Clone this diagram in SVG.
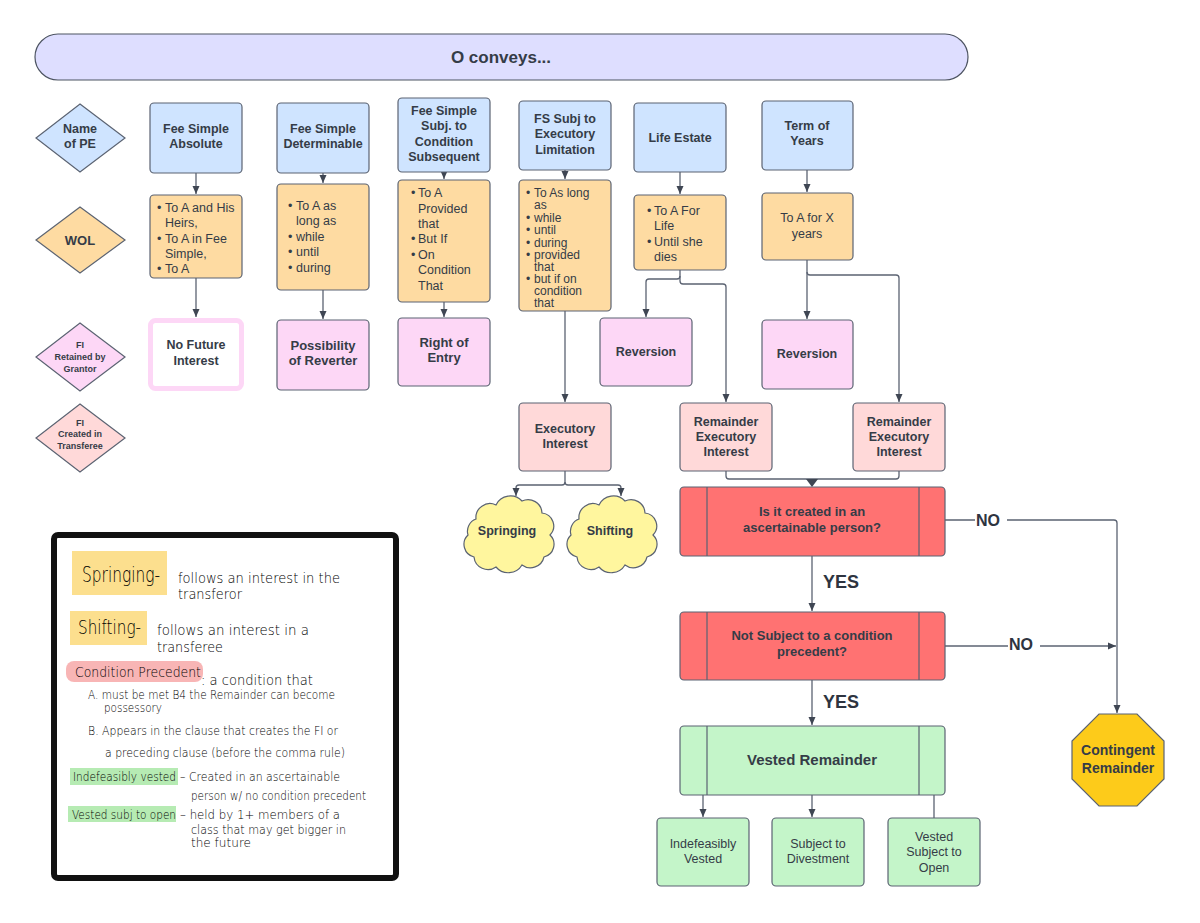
<svg xmlns="http://www.w3.org/2000/svg" width="1200" height="923" viewBox="0 0 1200 923">
<style>
text{font-family:"Liberation Sans",Arial,sans-serif;fill:#353c47}
.t{font-size:12.5px;font-weight:bold;text-anchor:middle}
.b{font-size:12.5px}
.s{font-size:12px}
.bl{stroke:#5b6372;stroke-width:1.2}
.blue{fill:#cfe4ff}
.org{fill:#fedba2}
.pnk{fill:#fdd7f6}
.lred{fill:#ffd9d9}
.red{fill:#ff7272}
.grn{fill:#c4f5c9}
.c{fill:none;stroke:#5b6372;stroke-width:1.3}
.lbl{font-size:18px;font-weight:bold;fill:#2e3440}
.h{font-family:"DejaVu Sans","Liberation Sans",sans-serif;font-weight:200;fill:#000}
</style>
<defs>
<marker id="ar" markerUnits="userSpaceOnUse" markerWidth="10" markerHeight="10" viewBox="0 0 10 10" refX="9" refY="5" orient="auto">
<path d="M1,1.5 L9,5 L1,8.5 z" fill="#3f4653"/>
</marker>
<path id="cloud" d="M14,22 a14,14 0 0 1 20,-14 a16,16 0 0 1 26,-4 a14,14 0 0 1 20,12 a13,13 0 0 1 8,22 a13,13 0 0 1 -6,22 a14,14 0 0 1 -22,8 a16,16 0 0 1 -26,2 a14,14 0 0 1 -22,-10 a13,13 0 0 1 -6,-22 a13,13 0 0 1 8,-16 z"/>
</defs>

<g id="connectors">
<path class="c" d="M196,173 V194" marker-end="url(#ar)"/>
<path class="c" d="M196,278 V317" marker-end="url(#ar)"/>
<path class="c" d="M323,173 V183" marker-end="url(#ar)"/>
<path class="c" d="M323,290 V319" marker-end="url(#ar)"/>
<path class="c" d="M444,172 V179" marker-end="url(#ar)"/>
<path class="c" d="M444,302 V317" marker-end="url(#ar)"/>
<path class="c" d="M565,170 V179" marker-end="url(#ar)"/>
<path class="c" d="M565,311 V402" marker-end="url(#ar)"/>
<path class="c" d="M680,172 V194" marker-end="url(#ar)"/>
<path class="c" d="M680,270 V276 Q680,279 677,279 H649 Q646,279 646,282 V317" marker-end="url(#ar)"/>
<path class="c" d="M680,276 V281 Q680,284 683,284 H723 Q726,284 726,287 V402" marker-end="url(#ar)"/>
<path class="c" d="M807,170 V192" marker-end="url(#ar)"/>
<path class="c" d="M807,260 V319" marker-end="url(#ar)"/>
<path class="c" d="M807,272 Q807,275 810,275 H896 Q899,275 899,278 V402" marker-end="url(#ar)"/>
<path class="c" d="M565,471 V482 Q565,485 562,485 H519 Q516,485 516,488 V496" marker-end="url(#ar)"/>
<path class="c" d="M565,482 Q565,485 568,485 H618 Q621,485 621,488 V496" marker-end="url(#ar)"/>
<path class="c" d="M726,471 V476 Q726,479 729,479 H896 Q899,479 899,476 V471"/>
<path d="M806,479 L818,479 L812,487 z" fill="#3f4653"/>
<path class="c" d="M812,556 V611" marker-end="url(#ar)"/>
<path class="c" d="M945,520 H1114 Q1117,520 1117,523 V713" marker-end="url(#ar)"/>
<path class="c" d="M945,646 H1116" marker-end="url(#ar)"/>
<path class="c" d="M812,680 V725" marker-end="url(#ar)"/>
<path class="c" d="M703,795 V817" marker-end="url(#ar)"/>
<path class="c" d="M812,795 V817" marker-end="url(#ar)"/>
<path class="c" d="M934,795 V818"/>
<rect x="975" y="510" width="32" height="20" fill="#fff"/>
<text class="lbl" x="976" y="526" style="font-size:16px">NO</text>
<rect x="1008" y="634" width="32" height="20" fill="#fff"/>
<text class="lbl" x="1009" y="650" style="font-size:16px">NO</text>
<text class="lbl" x="823" y="588">YES</text>
<text class="lbl" x="823" y="708">YES</text>
</g>

<g id="title">
<rect x="35" y="34" width="933" height="46" rx="23" fill="#dedeff" stroke="#4d5462" stroke-width="1.2"/>
<text x="501" y="63" style="font-size:17px;font-weight:bold;text-anchor:middle">O conveys...</text>
</g>

<g id="d-name">
<polygon points="80,104 125,138 80,172 36,138" class="blue bl"/>
<text class="t" x="80" y="133">Name</text><text class="t" x="80" y="148">of PE</text>
</g>
<g id="d-wol">
<polygon points="80,207 125,240 80,273 36,240" class="org bl"/>
<text class="t" x="80" y="245" style="font-size:13px">WOL</text>
</g>
<g id="d-fir">
<polygon points="80,323 125,357 80,391 36,357" class="pnk bl"/>
<text class="t" x="80" y="348" style="font-size:9px">FI</text>
<text class="t" x="80" y="360" style="font-size:9px">Retained by</text>
<text class="t" x="80" y="372" style="font-size:9px">Grantor</text>
</g>
<g id="d-fic">
<polygon points="80,404 125,438 80,472 36,438" class="lred bl"/>
<text class="t" x="80" y="426" style="font-size:9px">FI</text>
<text class="t" x="80" y="437" style="font-size:9px">Created in</text>
<text class="t" x="80" y="449" style="font-size:9px">Transferee</text>
</g>

<g id="fsa">
<rect x="150" y="103" width="92" height="70" rx="4" class="blue bl"/>
<text class="t" x="196" y="133">Fee Simple</text><text class="t" x="196" y="148">Absolute</text>
</g>
<g id="wol1">
<rect x="150" y="195" width="92" height="83" rx="4" class="org bl"/>
<text class="b"><tspan x="157" y="212">•</tspan><tspan x="165" y="212">To A and His</tspan><tspan x="165" y="227">Heirs,</tspan><tspan x="157" y="243">•</tspan><tspan x="165" y="243">To A in Fee</tspan><tspan x="165" y="258">Simple,</tspan><tspan x="157" y="273">•</tspan><tspan x="165" y="273">To A</tspan></text>
</g>
<g id="nfi">
<rect x="150.5" y="320.5" width="91" height="68" rx="5" fill="#fff" stroke="#fdd7f6" stroke-width="5"/>
<text class="t" x="196" y="349">No Future</text><text class="t" x="196" y="365">Interest</text>
</g>

<g id="fsd">
<rect x="277" y="103" width="92" height="70" rx="4" class="blue bl"/>
<text class="t" x="323" y="133">Fee Simple</text><text class="t" x="323" y="148">Determinable</text>
</g>
<g id="wol2">
<rect x="277" y="184" width="92" height="106" rx="4" class="org bl"/>
<text class="b"><tspan x="288" y="210">•</tspan><tspan x="296" y="210">To A as</tspan><tspan x="296" y="225">long as</tspan><tspan x="288" y="241">•</tspan><tspan x="296" y="241">while</tspan><tspan x="288" y="256">•</tspan><tspan x="296" y="256">until</tspan><tspan x="288" y="272">•</tspan><tspan x="296" y="272">during</tspan></text>
</g>
<g id="por">
<rect x="277" y="320" width="92" height="70" rx="4" class="pnk bl"/>
<text class="t" x="323" y="350" style="font-size:13px">Possibility</text><text class="t" x="323" y="365" style="font-size:13px">of Reverter</text>
</g>

<g id="fscs">
<rect x="398" y="98" width="92" height="74" rx="4" class="blue bl"/>
<text class="t" x="444" y="115">Fee Simple</text><text class="t" x="444" y="130">Subj. to</text><text class="t" x="444" y="146">Condition</text><text class="t" x="444" y="161">Subsequent</text>
</g>
<g id="wol3">
<rect x="398" y="180" width="92" height="122" rx="4" class="org bl"/>
<text class="b"><tspan x="411" y="197">•</tspan><tspan x="418" y="197">To A</tspan><tspan x="418" y="213">Provided</tspan><tspan x="418" y="228">that</tspan><tspan x="411" y="243">•</tspan><tspan x="418" y="243">But If</tspan><tspan x="411" y="259">•</tspan><tspan x="418" y="259">On</tspan><tspan x="418" y="274">Condition</tspan><tspan x="418" y="290">That</tspan></text>
</g>
<g id="roe">
<rect x="398" y="318" width="92" height="68" rx="4" class="pnk bl"/>
<text class="t" x="444" y="347" style="font-size:13px">Right of</text><text class="t" x="444" y="362" style="font-size:13px">Entry</text>
</g>

<g id="fsel">
<rect x="519" y="101" width="92" height="69" rx="4" class="blue bl"/>
<text class="t" x="565" y="123">FS Subj to</text><text class="t" x="565" y="138">Executory</text><text class="t" x="565" y="154">Limitation</text>
</g>
<g id="wol4">
<rect x="519" y="180" width="92" height="131" rx="4" class="org bl"/>
<text class="s"><tspan x="526" y="197">•</tspan><tspan x="534" y="197">To As long</tspan><tspan x="534" y="209">as</tspan><tspan x="526" y="222">•</tspan><tspan x="534" y="222">while</tspan><tspan x="526" y="234">•</tspan><tspan x="534" y="234">until</tspan><tspan x="526" y="247">•</tspan><tspan x="534" y="247">during</tspan><tspan x="526" y="259">•</tspan><tspan x="534" y="259">provided</tspan><tspan x="534" y="271">that</tspan><tspan x="526" y="283">•</tspan><tspan x="534" y="283">but if on</tspan><tspan x="534" y="295">condition</tspan><tspan x="534" y="307">that</tspan></text>
</g>
<g id="ei">
<rect x="519" y="403" width="92" height="68" rx="4" class="lred bl"/>
<text class="t" x="565" y="433">Executory</text><text class="t" x="565" y="448">Interest</text>
</g>
<g id="springing">
<use href="#cloud" transform="translate(462,497)" fill="#fff69e" stroke="#5b6372" stroke-width="1.2"/>
<text class="t" x="507" y="535">Springing</text>
</g>
<g id="shifting">
<use href="#cloud" transform="translate(565,497)" fill="#fff69e" stroke="#5b6372" stroke-width="1.2"/>
<text class="t" x="610" y="535">Shifting</text>
</g>

<g id="le">
<rect x="634" y="103" width="92" height="69" rx="4" class="blue bl"/>
<text class="t" x="680" y="142">Life Estate</text>
</g>
<g id="wol5">
<rect x="634" y="195" width="92" height="75" rx="4" class="org bl"/>
<text class="b"><tspan x="647" y="215">•</tspan><tspan x="654" y="215">To A For</tspan><tspan x="654" y="230">Life</tspan><tspan x="647" y="246">•</tspan><tspan x="654" y="246">Until she</tspan><tspan x="654" y="261">dies</tspan></text>
</g>
<g id="rev1">
<rect x="600" y="318" width="92" height="68" rx="4" class="pnk bl"/>
<text class="t" x="646" y="356">Reversion</text>
</g>
<g id="rei1">
<rect x="680" y="403" width="92" height="68" rx="4" class="lred bl"/>
<text class="t" x="726" y="426">Remainder</text><text class="t" x="726" y="441">Executory</text><text class="t" x="726" y="456">Interest</text>
</g>

<g id="toy">
<rect x="762" y="101" width="91" height="69" rx="4" class="blue bl"/>
<text class="t" x="807" y="130">Term of</text><text class="t" x="807" y="145">Years</text>
</g>
<g id="wol6">
<rect x="762" y="193" width="91" height="67" rx="4" class="org bl"/>
<text class="b" x="807" y="222" text-anchor="middle">To A for X</text><text class="b" x="807" y="238" text-anchor="middle">years</text>
</g>
<g id="rev2">
<rect x="762" y="320" width="91" height="69" rx="4" class="pnk bl"/>
<text class="t" x="807" y="358">Reversion</text>
</g>
<g id="rei2">
<rect x="853" y="403" width="92" height="68" rx="4" class="lred bl"/>
<text class="t" x="899" y="426">Remainder</text><text class="t" x="899" y="441">Executory</text><text class="t" x="899" y="456">Interest</text>
</g>

<g id="q1">
<rect x="680" y="487" width="265" height="69" rx="4" class="red bl"/>
<path d="M707,487 V556 M919,487 V556" class="bl"/>
<text class="t" x="812" y="516" style="font-size:13px">Is it created in an</text><text class="t" x="812" y="532" style="font-size:13px">ascertainable person?</text>
</g>
<g id="q2">
<rect x="680" y="612" width="265" height="68" rx="4" class="red bl"/>
<path d="M707,612 V680 M919,612 V680" class="bl"/>
<text class="t" x="812" y="640" style="font-size:13px">Not Subject to a condition</text><text class="t" x="812" y="656" style="font-size:13px">precedent?</text>
</g>
<g id="vr">
<rect x="680" y="726" width="265" height="69" rx="4" class="grn bl"/>
<path d="M707,726 V795 M919,726 V795" class="bl"/>
<text class="t" x="812" y="765" style="font-size:15px">Vested Remainder</text>
</g>
<g id="iv">
<rect x="657" y="818" width="92" height="68" rx="4" class="grn bl"/>
<text class="b" x="703" y="848" text-anchor="middle">Indefeasibly</text><text class="b" x="703" y="863" text-anchor="middle">Vested</text>
</g>
<g id="std">
<rect x="772" y="818" width="92" height="68" rx="4" class="grn bl"/>
<text class="b" x="818" y="848" text-anchor="middle">Subject to</text><text class="b" x="818" y="863" text-anchor="middle">Divestment</text>
</g>
<g id="vsto">
<rect x="888" y="818" width="92" height="68" rx="4" class="grn bl"/>
<text class="b" x="934" y="841" text-anchor="middle">Vested</text><text class="b" x="934" y="856" text-anchor="middle">Subject to</text><text class="b" x="934" y="872" text-anchor="middle">Open</text>
</g>
<g id="cr">
<polygon points="1099,714 1137,714 1164,741 1164,779 1137,806 1099,806 1072,779 1072,741" fill="#fdcb1a" stroke="#5b6372" stroke-width="1.2"/>
<text class="t" x="1118" y="755" style="font-size:14px">Contingent</text><text class="t" x="1118" y="773" style="font-size:14px">Remainder</text>
</g>

<g id="notes">
<rect x="54" y="535" width="342" height="343" rx="4" fill="#fff" stroke="#111" stroke-width="6"/>
<rect x="72" y="551" width="95" height="44" fill="#fbd97a" opacity="0.85"/>
<rect x="70" y="611" width="77" height="34" fill="#fbd97a" opacity="0.85"/>
<rect x="66" y="661" width="137" height="21" rx="8" fill="#f6a3a3" opacity="0.8"/>
<rect x="70" y="768" width="108" height="17" fill="#a9e7a6" opacity="0.85"/>
<rect x="68" y="806" width="108" height="16" fill="#a9e7a6" opacity="0.85"/>
<text class="h" x="82" y="582" style="font-size:21px" textLength="78" lengthAdjust="spacingAndGlyphs">Springing-</text>
<text class="h" x="178" y="583" style="font-size:14px" textLength="162" lengthAdjust="spacingAndGlyphs">follows an interest in the</text>
<text class="h" x="178" y="599" style="font-size:14px" textLength="64" lengthAdjust="spacingAndGlyphs">transferor</text>
<text class="h" x="78" y="634" style="font-size:20px" textLength="63" lengthAdjust="spacingAndGlyphs">Shifting-</text>
<text class="h" x="157" y="635" style="font-size:14px" textLength="152" lengthAdjust="spacingAndGlyphs">follows an interest in a</text>
<text class="h" x="157" y="652" style="font-size:14px" textLength="66" lengthAdjust="spacingAndGlyphs">transferee</text>
<text class="h" x="75" y="677" style="font-size:14px" textLength="126" lengthAdjust="spacingAndGlyphs">Condition Precedent</text>
<text class="h" x="201" y="685" style="font-size:14px" textLength="112" lengthAdjust="spacingAndGlyphs">: a condition that</text>
<text class="h" x="88" y="699" style="font-size:12px" textLength="247" lengthAdjust="spacingAndGlyphs">A. must be met B4 the Remainder can become</text>
<text class="h" x="104" y="712" style="font-size:12px" textLength="58" lengthAdjust="spacingAndGlyphs">possessory</text>
<text class="h" x="88" y="735" style="font-size:12px" textLength="250" lengthAdjust="spacingAndGlyphs">B. Appears in the clause that creates the FI or</text>
<text class="h" x="105" y="757" style="font-size:12px" textLength="240" lengthAdjust="spacingAndGlyphs">a preceding clause (before the comma rule)</text>
<text class="h" x="73" y="781" style="font-size:12px" textLength="103" lengthAdjust="spacingAndGlyphs">Indefeasibly vested</text>
<text class="h" x="180" y="781" style="font-size:12px" textLength="160" lengthAdjust="spacingAndGlyphs">– Created in an ascertainable</text>
<text class="h" x="191" y="800" style="font-size:12px" textLength="175" lengthAdjust="spacingAndGlyphs">person w/ no condition precedent</text>
<text class="h" x="72" y="819" style="font-size:12px" textLength="104" lengthAdjust="spacingAndGlyphs">Vested subj to open</text>
<text class="h" x="180" y="819" style="font-size:12px" textLength="160" lengthAdjust="spacingAndGlyphs">– held by 1+ members of a</text>
<text class="h" x="191" y="834" style="font-size:12px" textLength="155" lengthAdjust="spacingAndGlyphs">class that may get bigger in</text>
<text class="h" x="191" y="847" style="font-size:12px" textLength="60" lengthAdjust="spacingAndGlyphs">the future</text>
</g>
</svg>
